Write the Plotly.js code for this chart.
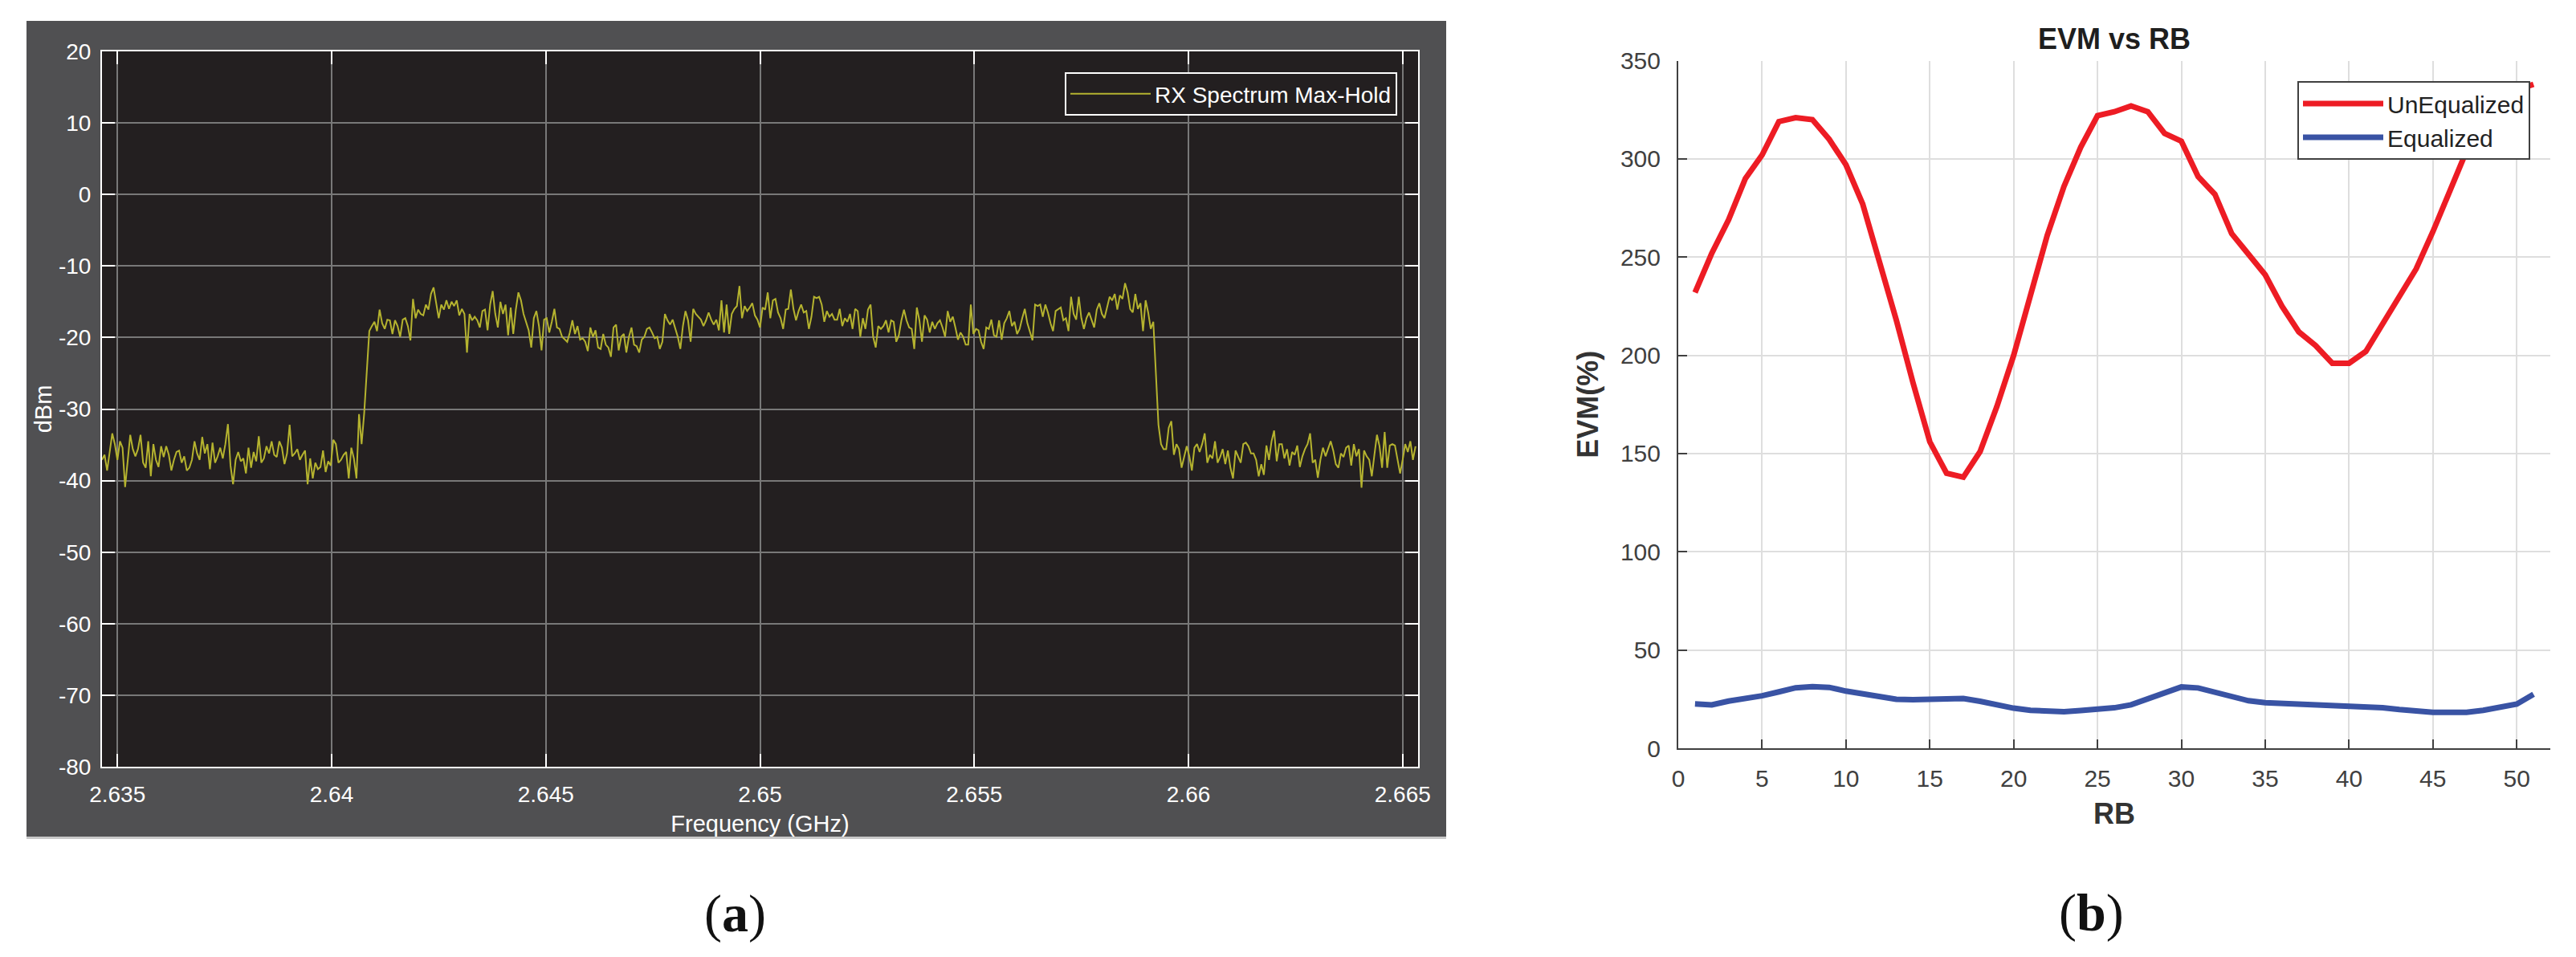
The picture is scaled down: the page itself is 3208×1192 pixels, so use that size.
<!DOCTYPE html>
<html>
<head>
<meta charset="utf-8">
<script src="https://cdn.plot.ly/plotly-3.0.1.min.js"></script>
<style>html,body{margin:0;padding:0;background:#fff;}#chart{width:3208px;height:1192px;}</style>
</head>
<body>
<div id="chart"></div>
<script>
// ---------- DATA ----------
// (a) RX spectrum max-hold, 512 bins of 0.06 MHz starting at 2.63464 GHz
const freqStartGHz = 2.63464;
const binWidthGHz = 0.00006;
const rxSeg1 = [
-37.1,-36.4,-38.6,-36.0,-33.4,-34.9,-37.1,-34.5,-35.4,-40.9,
-37.1,-33.6,-35.6,-36.6,-35.6,-33.6,-37.5,-38.2,-34.5,-39.4,
-34.9,-37.1,-38.1,-35.2,-36.7,-35.2,-36.4,-38.6,-37.1,-36.0,
-35.8,-37.5,-36.6,-38.6,-38.2,-37.1,-34.5,-36.2,-37.1,-33.9,
-36.2,-34.9,-38.4,-34.7,-37.5,-36.6,-35.4,-36.9,-34.9,-32.1,
-37.9,-40.5,-37.1,-36.0,-37.3,-36.9,-39.0,-35.4,-38.2,-36.0,
-37.3,-33.8,-37.5,-36.9,-35.2,-36.2,-34.5,-36.4,-36.7,-34.5,
-35.4,-37.7,-36.2,-32.2,-36.6,-36.2,-35.6,-37.1,-36.4,-35.8,
-40.5,-36.9,-39.7,-37.5,-38.4,-38.1,-35.8,-38.8,-37.3,-37.9,
-34.3,-34.9,-37.5,-37.1,-36.4,-36.0,-39.7,-35.4,-36.9,-39.7,
-30.7,-34.9,-30.6,-24.4,-19.1,-18.4,-17.8,-19.1,-16.1,-18.0,
-18.8,-17.5,-17.6,-19.5,-17.6,-18.4,-19.9,-17.5,-17.3,-18.4,
-20.4,-14.6,-17.3,-16.1,-16.7,-16.9,-15.4,-16.1,-13.9,-13.0,
-15.2];
const rxSeg2 = [
-17.3,-15.4,-16.1,-14.8,-16.0,-15.0,-15.6,-14.8,-16.9,-16.0,
-16.7,-22.1,-16.7,-17.6,-17.1,-17.6,-18.6,-16.3,-16.1,-19.0,
-15.4,-13.5,-16.7,-18.6,-15.0,-16.7,-15.4,-19.7,-15.8,-19.5,
-16.1,-13.7,-14.8,-16.7,-18.0,-19.0,-21.4,-17.3,-16.3,-18.4,
-21.8,-17.5,-17.3,-19.3,-17.8,-16.0,-18.6,-18.8,-19.9,-20.3,
-20.6,-19.3,-17.6,-19.5,-18.4,-20.3,-20.1,-20.6,-21.9,-18.6,
-19.9,-19.0,-21.4,-21.6,-19.5,-21.0,-21.4,-22.7,-18.6,-18.2,
-21.8,-19.9,-19.5,-22.1,-19.9,-18.6,-21.0,-21.2,-22.1,-20.3,
-19.9,-18.8,-18.6,-19.3,-20.1,-19.9,-21.6,-20.6,-16.7,-17.6,
-18.2,-17.5,-18.8,-19.9,-21.6,-18.4,-16.3,-17.6,-20.6,-16.0,
-16.7,-17.1,-17.5,-18.4,-17.6,-16.5,-17.5,-18.2,-17.5,-19.0,
-14.8,-19.3,-15.4,-19.5,-16.7,-16.0,-15.6,-12.8,-17.3,-15.6,
-16.3,-15.8,-15.2,-16.9,-17.5,-18.6,-15.8,-16.1,-13.7,-17.3];
const rxSeg3 = [
-14.8,-14.6,-16.5,-17.3,-18.8,-16.1,-16.0,-13.3,-16.0,-17.6,
-16.3,-15.4,-16.5,-16.3,-18.8,-17.1,-14.3,-14.5,-14.3,-15.4,
-17.8,-16.3,-17.1,-16.7,-17.5,-17.5,-16.0,-18.4,-17.3,-17.8,
-16.7,-18.8,-16.0,-16.3,-19.9,-17.3,-18.8,-16.1,-15.4,-19.9,
-21.4,-18.4,-18.8,-18.4,-17.6,-19.3,-17.6,-17.8,-20.6,-19.7,
-17.6,-16.1,-17.6,-18.6,-18.8,-21.6,-15.8,-17.6,-20.6,-16.9,
-17.5,-19.3,-17.8,-18.8,-18.0,-17.6,-18.6,-19.9,-16.3,-17.8,
-17.1,-18.6,-20.3,-19.3,-19.9,-21.0,-21.0,-15.4,-19.5,-18.8,
-19.0,-20.6,-21.6,-18.6,-18.8,-17.5,-19.7,-19.9,-17.6,-20.3,
-18.0,-17.3,-16.3,-18.4,-17.8,-19.5,-18.8,-17.3,-16.0,-18.0,
-19.3,-20.4,-15.4,-15.6,-15.4,-17.1,-15.4,-16.5,-18.0,-19.1,
-16.3,-16.0,-15.8,-17.6,-17.3,-19.1,-14.3,-16.7,-17.5,-14.3,
-17.3,-18.8,-17.3,-16.5,-17.5,-18.6,-16.1,-15.2,-16.7,-17.3];
const rxSeg4 = [
-15.8,-14.3,-14.8,-13.9,-16.1,-14.1,-14.6,-12.4,-13.7,-16.0,
-16.5,-13.9,-16.0,-15.2,-19.1,-14.8,-16.5,-18.8,-17.8,-25.1,
-32.2,-34.9,-35.6,-35.6,-32.6,-31.7,-36.4,-34.9,-35.6,-38.2,
-36.7,-35.2,-36.6,-38.6,-35.4,-34.9,-36.0,-34.9,-33.4,-37.5,
-36.4,-36.9,-34.5,-37.5,-36.7,-35.6,-37.7,-35.8,-38.2,-39.7,
-35.8,-36.7,-37.5,-34.9,-34.7,-35.2,-36.2,-36.2,-37.1,-39.4,
-37.7,-39.2,-35.1,-37.1,-34.5,-33.0,-37.3,-34.9,-34.9,-36.9,
-35.6,-37.9,-36.0,-36.4,-35.1,-38.1,-36.6,-35.6,-34.9,-33.4,
-37.5,-37.1,-39.6,-37.1,-35.4,-36.6,-35.6,-34.5,-35.8,-37.7,
-38.2,-36.2,-36.7,-35.4,-35.1,-37.9,-34.9,-36.6,-35.6,-41.0,
-35.8,-36.6,-37.1,-39.4,-36.4,-33.6,-35.2,-38.2,-33.2,-38.2,
-35.1,-34.9,-35.1,-37.1,-39.0,-37.1,-34.9,-36.0,-34.5,-37.1,
-35.2];
const freqTickVals = [2.635, 2.64, 2.645, 2.65, 2.655, 2.66, 2.665];
const freqTickText = ['2.635', '2.64', '2.645', '2.65', '2.655', '2.66', '2.665'];
const dbmTickVals = [-80, -70, -60, -50, -40, -30, -20, -10, 0, 10, 20];
const dbmTickText = ['-80', '-70', '-60', '-50', '-40', '-30', '-20', '-10', '0', '10', '20'];

// (b) EVM vs RB
const rb = [1,2,3,4,5,6,7,8,9,10,11,12,13,14,15,16,17,18,19,20,21,22,23,24,25,26,27,28,29,30,31,32,33,34,35,36,37,38,39,40,41,42,43,44,45,46,47,48,49,50,51];
const evmUnequalized = [232,252,269,290,302,319,321,320,310,297,277,248,218,186,156,140,138,151,174,200,231,261,286,306,322,324,327,324,313,309,291,282,262,251,241,225,212,205,196,196,202,216,230,244,263,283,304,318,328,335,338];
const evmEqualized = [22.6,22.1,24.0,25.3,26.7,28.7,30.8,31.4,31.0,29.1,27.9,26.3,24.9,24.7,25.1,25.6,25.3,23.9,22.1,20.4,19.3,18.8,18.6,19.2,19.9,20.6,22.1,25.3,28.4,31.2,30.7,28.4,26.0,24.2,23.2,22.8,22.5,22.3,21.8,21.8,21.1,20.6,19.7,18.8,18.3,18.3,18.3,19.3,20.6,22.5,27.5];
const rbTickVals = [0,5,10,15,20,25,30,35,40,45,50];
const evmTickVals = [0,50,100,150,200,250,300,350];

// ---------- BUILD ----------
const rxMaxHoldDbm = rxSeg1.concat(rxSeg2, rxSeg3, rxSeg4);
const freqGHz = rxMaxHoldDbm.map((_, i) => freqStartGHz + i * binWidthGHz);

const W = 3208, H = 1192;
const px = v => v / W;
const py = v => 1 - v / H;

const FONT = 'Liberation Sans, Arial, Helvetica, sans-serif';

const traces = [
  {
    type: 'scatter', mode: 'lines', name: 'RX Spectrum Max-Hold',
    x: freqGHz, y: rxMaxHoldDbm, xaxis: 'x', yaxis: 'y',
    line: {color: '#b5b32f', width: 2}, legend: 'legend2', hoverinfo: 'skip'
  },
  {
    type: 'scatter', mode: 'lines', name: 'UnEqualized',
    x: rb, y: evmUnequalized, xaxis: 'x2', yaxis: 'y2',
    line: {color: '#ed1c24', width: 7}, legend: 'legend'
  },
  {
    type: 'scatter', mode: 'lines', name: 'Equalized',
    x: rb, y: evmEqualized, xaxis: 'x2', yaxis: 'y2',
    line: {color: '#3953a4', width: 7}, legend: 'legend'
  }
];

const darkAxisCommon = {
  ticks: 'inside', ticklen: 16, tickwidth: 2, tickcolor: '#ffffff',
  showline: true, linecolor: '#ffffff', linewidth: 2, mirror: 'ticks',
  showgrid: true, gridcolor: '#787878', gridwidth: 2, zeroline: false,
  tickfont: {family: FONT, size: 28, color: '#ffffff'}
};
const lightAxisCommon = {
  ticks: 'inside', ticklen: 11, tickwidth: 2, tickcolor: '#404040',
  showline: true, linecolor: '#404040', linewidth: 2, mirror: false,
  showgrid: true, gridcolor: '#dedede', gridwidth: 2, zeroline: false,
  tickfont: {family: FONT, size: 30, color: '#404040'}
};

const layout = {
  width: W, height: H,
  margin: {l: 0, r: 0, t: 0, b: 0},
  paper_bgcolor: '#ffffff', plot_bgcolor: 'rgba(0,0,0,0)',
  font: {family: FONT},
  showlegend: true,
  title: {
    text: '<b>EVM vs RB</b>', font: {family: FONT, size: 36, color: '#1e1e1e'},
    xref: 'paper', yref: 'paper', x: px(2633), xanchor: 'center', y: py(48), yanchor: 'middle'
  },
  xaxis: Object.assign({}, darkAxisCommon, {
    domain: [px(127), px(1766)], anchor: 'y',
    range: [2.63464, 2.66536], tickmode: 'array', tickvals: freqTickVals, ticktext: freqTickText,
    ticklabelstandoff: 8,
    title: {text: 'Frequency (GHz)', font: {family: FONT, size: 29, color: '#ffffff'}, standoff: 12}
  }),
  yaxis: Object.assign({}, darkAxisCommon, {
    domain: [py(955), py(64)], anchor: 'x',
    range: [-80, 20], tickmode: 'array', tickvals: dbmTickVals, ticktext: dbmTickText,
    ticklabelstandoff: 6,
    title: {text: 'dBm', font: {family: FONT, size: 29, color: '#ffffff'}, standoff: 0}
  }),
  xaxis2: Object.assign({}, lightAxisCommon, {
    domain: [px(2090), px(3176)], anchor: 'y2',
    range: [0, 52], tickmode: 'array', tickvals: rbTickVals,
    ticklabelstandoff: 10,
    title: {text: '<b>RB</b>', font: {family: FONT, size: 36, color: '#333333'}, standoff: 16}
  }),
  yaxis2: Object.assign({}, lightAxisCommon, {
    domain: [py(932), py(75.6)], anchor: 'x2',
    range: [0, 350], tickmode: 'array', tickvals: evmTickVals,
    ticklabelstandoff: 14,
    title: {text: '<b>EVM(%)</b>', font: {family: FONT, size: 36, color: '#333333'}, standoff: 16}
  }),
  legend: {
    x: px(3151), xanchor: 'right', y: py(101), yanchor: 'top',
    bgcolor: '#ffffff', bordercolor: '#404040', borderwidth: 2,
    font: {family: FONT, size: 30, color: '#222222'}, itemwidth: 100, tracegroupgap: 0
  },
  legend2: {
    x: px(1740), xanchor: 'right', y: py(90), yanchor: 'top',
    bgcolor: '#231f20', bordercolor: '#ffffff', borderwidth: 2,
    font: {family: FONT, size: 28, color: '#ffffff'}, itemwidth: 100
  },
  shapes: [
    {type: 'rect', xref: 'paper', yref: 'paper', layer: 'below',
     x0: px(33), x1: px(1801), y0: py(1042), y1: py(26),
     fillcolor: '#505052', line: {width: 0}},
    {type: 'line', xref: 'paper', yref: 'paper', layer: 'below',
     x0: px(33), x1: px(1801), y0: py(1043.5), y1: py(1043.5),
     line: {color: '#c8c8c8', width: 3}},
    {type: 'rect', xref: 'paper', yref: 'paper', layer: 'below',
     x0: px(127), x1: px(1766), y0: py(955), y1: py(64),
     fillcolor: '#231f20', line: {width: 0}}
  ],
  annotations: [
    {text: '(<b>a</b>)', xref: 'paper', yref: 'paper', x: px(915), y: py(1138),
     xanchor: 'center', yanchor: 'middle', showarrow: false,
     font: {family: 'Liberation Serif, Times New Roman, serif', size: 66, color: '#111111'}},
    {text: '(<b>b</b>)', xref: 'paper', yref: 'paper', x: px(2604), y: py(1137),
     xanchor: 'center', yanchor: 'middle', showarrow: false,
     font: {family: 'Liberation Serif, Times New Roman, serif', size: 66, color: '#111111'}}
  ]
};

Plotly.newPlot('chart', traces, layout, {staticPlot: true, displayModeBar: false});
</script>
</body>
</html>
